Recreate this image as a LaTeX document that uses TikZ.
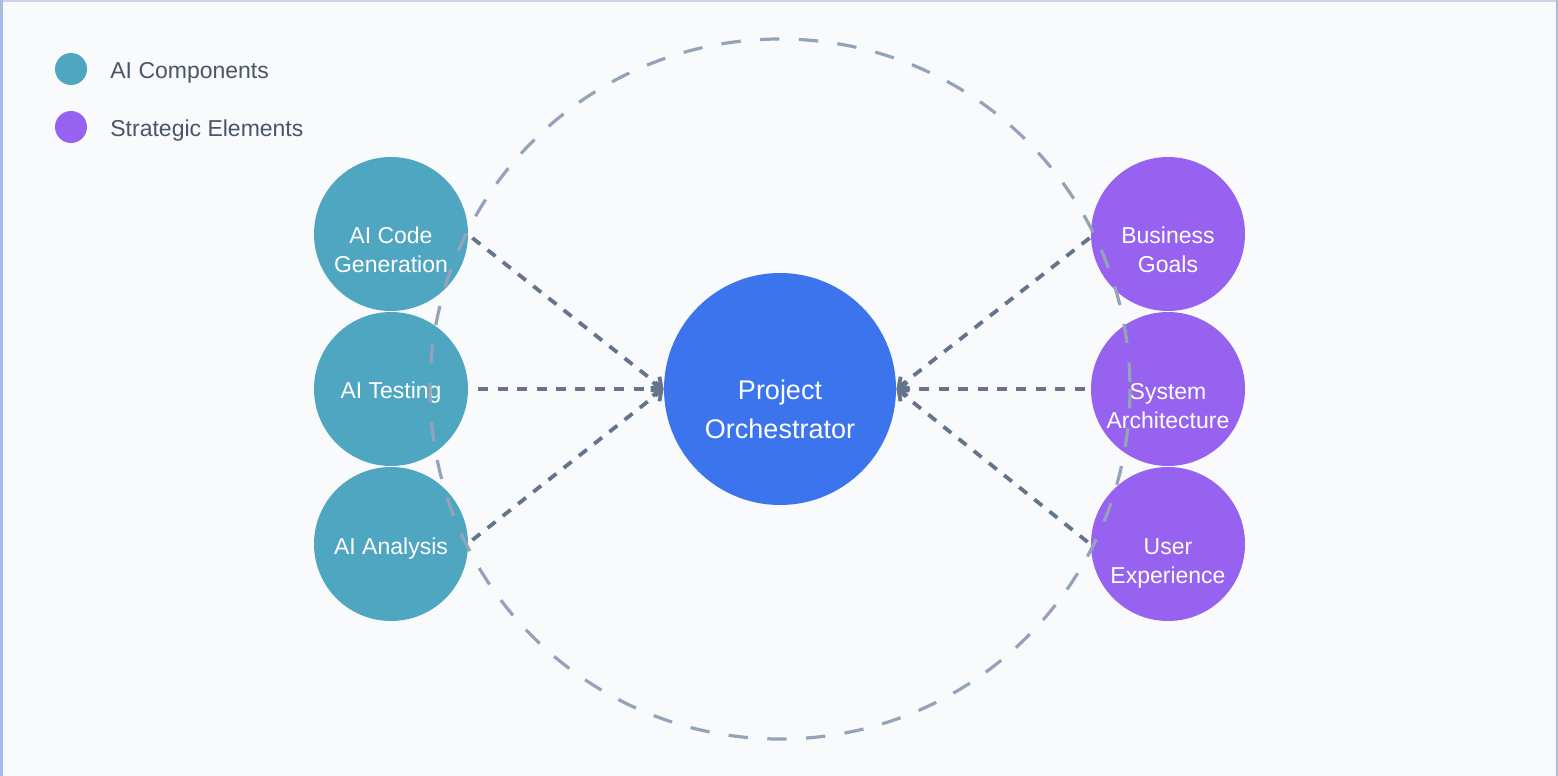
\documentclass[tikz,border=0pt]{standalone}
\usepackage{fontspec}
\setmainfont{Liberation Sans}
\usetikzlibrary{arrows.meta,calc}
\definecolor{bgc}{HTML}{F8FAFC}
\definecolor{leftbar}{HTML}{A7BBE3}
\definecolor{topbar}{HTML}{CAD5EC}
\definecolor{aicol}{HTML}{4FA6C1}
\definecolor{stcol}{HTML}{9662EF}
\definecolor{orchcol}{HTML}{3B74EC}
\definecolor{ringcol}{HTML}{94A3B8}
\definecolor{arrcol}{HTML}{64748B}
\definecolor{legtext}{HTML}{4A5568}
\begin{document}
\begin{tikzpicture}[x=0.5pt,y=-0.5pt,
  aicirc/.style={circle,fill=aicol,draw=none,minimum size=77pt,inner sep=0pt},
  stcirc/.style={circle,fill=stcol,draw=none,minimum size=77pt,inner sep=0pt},
  orchcirc/.style={circle,fill=orchcol,draw=none,minimum size=116pt,inner sep=0pt},
  lbl/.style={text=white,align=center,inner sep=0pt,font=\fontsize{11.5}{14.5}\selectfont},
  biglbl/.style={text=white,align=center,inner sep=0pt,font=\fontsize{13.5}{19.5}\selectfont},
  legdot/.style={circle,draw=none,minimum size=16pt,inner sep=0pt},
  legtxt/.style={text=legtext,anchor=base west,inner sep=0pt,font=\fontsize{11.5}{14}\selectfont},
  ring/.style={draw=ringcol,line width=1.6pt,dash pattern=on 9.7pt off 9.7pt},
  arr/.style={draw=arrcol,line width=1.9pt,dash pattern=on 5pt off 4.7pt,-{Straight Barb[length=4pt,width=7pt]}}
]
% background and frame
\fill[bgc] (0,0) rectangle (1558,776);
\useasboundingbox (0,0) rectangle (1558,776);
\fill[topbar] (0,0) rectangle (1558,2);
\fill[leftbar] (0,0) rectangle (3,776);
\fill[leftbar] (1556,0) rectangle (1558,776);

% legend
\node[legdot,fill=aicol] (dotai) at (71,69) {};
\node[legtxt] (legai) at (110,78) {AI Components};
\node[legdot,fill=stcol] (dotst) at (71,127) {};
\node[legtxt] (legst) at (110,136) {Strategic Elements};

% nodes
\node[aicirc] (gen) at (391,234) {};
\node[aicirc] (test) at (391,389) {};
\node[aicirc] (ana) at (391,544) {};
\node[stcirc] (biz) at (1168,234) {};
\node[stcirc] (arch) at (1168,389) {};
\node[stcirc] (ux) at (1168,544) {};
\node[orchcirc] (orch) at (780,389) {};

% labels
\node[lbl] (genl) at ($(gen.center)+(0,15.5)$) {AI Code\\Generation};
\node[lbl] (testl) at ($(test.center)+(0,4)$) {AI Testing};
\node[lbl] (anal) at ($(ana.center)+(0,5)$) {AI Analysis};
\node[lbl] (bizl) at ($(biz.center)+(0,16)$) {Business\\Goals};
\node[lbl] (archl) at ($(arch.center)+(0,17.5)$) {System\\Architecture};
\node[lbl] (uxl) at ($(ux.center)+(0,19.5)$) {User\\Experience};
\node[biglbl] (orchl) at ($(orch.center)+(0,20.5)$) {Project\\Orchestrator};

% dashed ring
\draw[ring] (orch.center) circle[radius=350];

% connectors
\draw[arr] ($(gen.east)+(4,4)$) -- (orch.west);
\draw[arr] ($(test.east)+(10,0)$) -- (orch.west);
\draw[arr] ($(ana.east)+(4,-4)$) -- (orch.west);
\draw[arr] ($(biz.west)+(-1,4)$) -- (orch.east);
\draw[arr] ($(arch.west)+(-6,0)$) -- (orch.east);
\draw[arr] ($(ux.west)+(-3,-2)$) -- (orch.east);
\end{tikzpicture}
\end{document}
